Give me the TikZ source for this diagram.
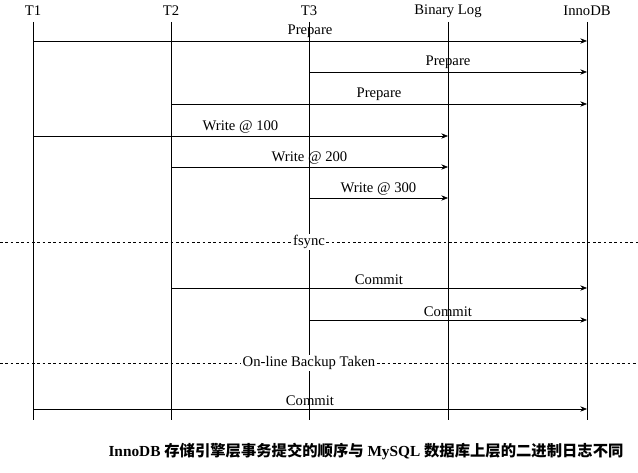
\documentclass[tikz,border=0pt]{standalone}
\usepackage{fontspec}
\setmainfont{Liberation Serif}
\newfontfamily\cjk{Noto Sans CJK SC}
\usetikzlibrary{arrows.meta}
\begin{document}
\begin{tikzpicture}[x=0.75pt,y=-0.75pt,font=\fontsize{11}{13}\selectfont,
  msg/.style={-{Stealth[length=5pt,width=4pt]},line width=0.5pt},
  life/.style={line width=0.5pt},
  sep/.style={dash pattern=on 2pt off 2pt,line width=0.5pt},
  lbl/.style={inner sep=1pt}]
\useasboundingbox (0,0) rectangle (638,473);
\foreach \n/\x/\t in {t1/33/T1,t2/171/T2,t3/309/T3,bl/448/Binary Log,db/587/InnoDB}{
  \node[lbl] (\n) at (\x,11) {\t};
  \coordinate (\n a) at (\x,22);
  \coordinate (\n b) at (\x,420);
  \draw[life] (\n a) -- (\n b);
}
\foreach \s/\e/\y/\t in {t1/db/41/Prepare,t3/db/72/Prepare,t2/db/104/Prepare,
  t1/bl/136/Write @ 100,t2/bl/167/Write @ 200,t3/bl/198/Write @ 300,
  t2/db/288/Commit,t3/db/320/Commit,t1/db/409/Commit}{
  \coordinate (ms) at (\s a |- 0,\y);
  \coordinate (me) at (\e a |- 0,\y);
  \draw[msg] (ms) -- (me) node[midway,above,lbl,yshift=1pt] {\t};
}
\coordinate (l1) at (0,242); \coordinate (r1) at (638,242);
\node[fill=white,lbl] (fs) at (309,242) {fsync};
\draw[sep] (l1) -- (fs.west); \draw[sep] (fs.east) -- (r1);
\coordinate (l2) at (0,363); \coordinate (r2) at (638,363);
\node[fill=white,lbl] (ob) at (309,363) {On-line Backup Taken};
\draw[sep] (l2) -- (ob.west); \draw[sep] (ob.east) -- (r2);
\node[lbl,font=\fontsize{11.5}{13}\selectfont] (cap) at (366,451) {\bfseries InnoDB {\cjk 存储引擎层事务提交的顺序与} MySQL {\cjk 数据库上层的二进制日志不同}};
\end{tikzpicture}
\end{document}
